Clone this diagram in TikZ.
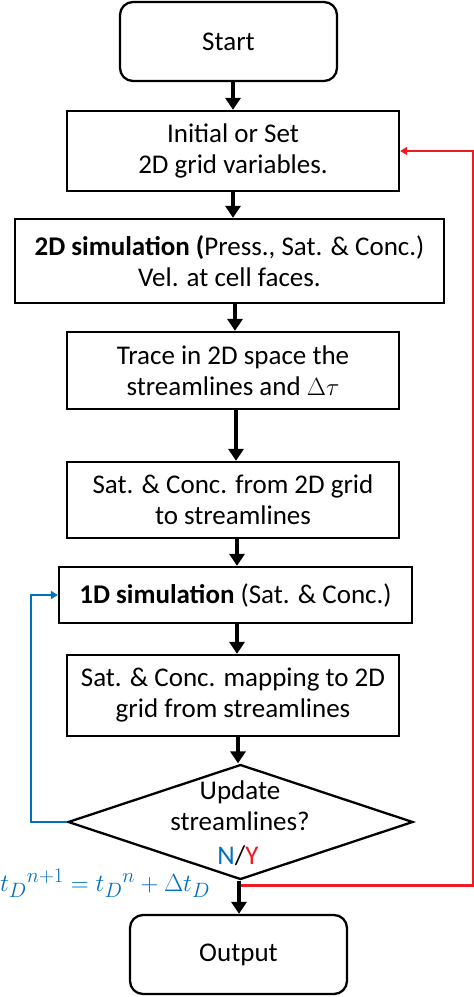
\documentclass[tikz,border=0pt]{standalone}
\usepackage{fontspec}
\setmainfont{Carlito}
\usetikzlibrary{shapes.geometric,arrows.meta,calc}
\definecolor{lblue}{RGB}{0,112,192}
\definecolor{lred}{RGB}{237,28,36}
\begin{document}
\begin{tikzpicture}[x=1pt,y=-1pt,
  txt/.style={font=\fontsize{27}{31}\selectfont, align=center, inner sep=0pt},
  box/.style={txt, draw, line width=2.3pt, rectangle},
  term/.style={box, rounded corners=13pt, minimum width=217pt, minimum height=79pt},
  dec/.style={draw, line width=2.3pt, diamond, aspect=3, inner sep=0pt, minimum width=345pt, minimum height=115pt},
  arr/.style={line width=3.6pt, -{Triangle[width=15pt,length=12pt]}},
  bluel/.style={draw=lblue, line width=2.5pt, -{Triangle[width=8pt,length=7pt]}},
  redl/.style={draw=lred, line width=2.5pt, -{Triangle[width=8pt,length=7pt]}}
]
\useasboundingbox[fill=white] (0,0) rectangle (474,997);

\node[term] (start) at (228.5,41.5) {Start};
\node[box, minimum width=332pt, minimum height=80pt] (b1) at (233,151) {Initial or Set\\2D grid variables.};
\node[box, minimum width=429pt, minimum height=84pt] (b2) at (229.5,261) {\textbf{2D simulation (}Press., Sat. \& Conc.)\\Vel. at cell faces.};
\node[box, minimum width=332pt, minimum height=77pt] (b3) at (233,370.5) {Trace in 2D space the\\streamlines and $\Delta\tau$};
\node[box, minimum width=332pt, minimum height=76pt] (b4) at (233,500) {Sat. \& Conc. from 2D grid\\to streamlines};
\node[box, minimum width=353pt, minimum height=56pt] (b5) at (235.5,595) {\textbf{1D simulation} (Sat. \& Conc.)};
\node[box, minimum width=332pt, minimum height=81pt] (b6) at (233,695.5) {Sat. \& Conc. mapping to 2D\\grid from streamlines};
\node[dec] (d) at (240.5,822) {};
\node[txt] (dq) at (240,806) {Update\\streamlines?};
\node[txt] (ny) at (238,856) {\textcolor{lblue}{N}/\textcolor{lred}{Y}};
\node[term] (out) at (238.5,954.5) {Output};
\node[txt, anchor=west, text=lblue, font=\fontsize{30}{34}\selectfont] (eq) at (0,883) {${t_D}^{n+1} = {t_D}^{n} + \Delta t_D$};

\coordinate (rs) at ($(d.south)+(0,5)$);
\draw[redl] (rs) -| ($(b1.east)+(73,0)$) -- (b1.east);
\draw[bluel] (d.west) -| ($(b5.west)+(-27,0)$) -- (b5.west);

\draw[arr] (start.south -| 233,0) -- (b1.north -| 233,0);
\draw[arr] (b1.south -| 233,0) -- (b2.north -| 233,0);
\draw[arr] (b2.south -| 235,0) -- (b3.north -| 235,0);
\draw[arr] (b3.south -| 236,0) -- (b4.north -| 236,0);
\draw[arr] (b4.south -| 237,0) -- (b5.north -| 237,0);
\draw[arr] (b5.south -| 237,0) -- (b6.north -| 237,0);
\draw[arr] (b6.south -| 238,0) -- (d.north -| 238,0);
\draw[arr] (d.south -| 239,0) -- (out.north -| 239,0);
\end{tikzpicture}
\end{document}
